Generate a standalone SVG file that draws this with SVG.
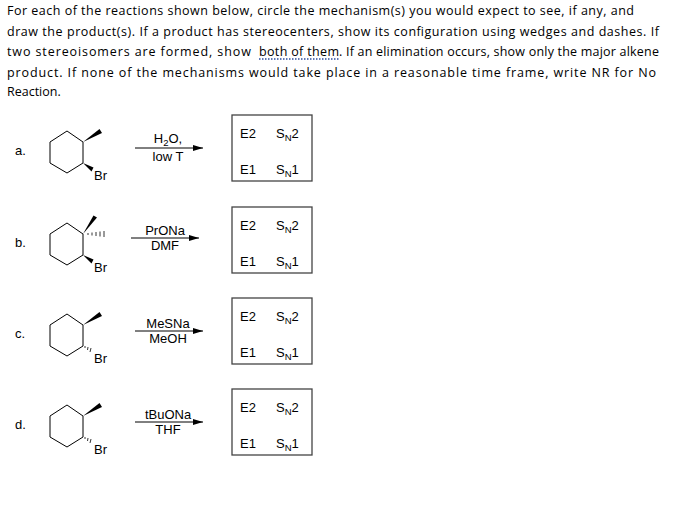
<svg xmlns="http://www.w3.org/2000/svg" width="674" height="515" viewBox="0 0 674 515">
<defs>
<marker id="ah" viewBox="0 0 10 6" refX="10" refY="3" markerWidth="10" markerHeight="6" markerUnits="userSpaceOnUse" orient="auto"><path d="M0,0 L10,3 L0,6 Z" fill="#000"/></marker>
<g id="ring"><polygon points="50,142 67,131 83,142 83,163 67,173 50,163" fill="none" stroke="#000" stroke-width="1"/></g>
</defs>
<style>
.q{font-family:"Open Sans",sans-serif;font-size:12.5px;fill:#000}
.t{font-family:"Liberation Sans",Arial,sans-serif;font-size:13px;fill:#000}
.s{font-size:9.5px}
.box{fill:#fff;stroke:#444;stroke-width:1.3}
.ar{stroke:#000;stroke-width:1;marker-end:url(#ah)}
</style>
<rect width="674" height="515" fill="#fff"/>
<g id="question">
<text class="q" x="7" y="15" textLength="627" lengthAdjust="spacing">For each of the reactions shown below, circle the mechanism(s) you would expect to see, if any, and</text>
<text class="q" x="7" y="36" textLength="652" lengthAdjust="spacing">draw the product(s). If a product has stereocenters, show its configuration using wedges and dashes. If</text>
<text class="q" y="56"><tspan x="7" textLength="248" lengthAdjust="spacing">two stereoisomers are formed, show </tspan><tspan x="259" textLength="80" lengthAdjust="spacing">both of them</tspan><tspan x="339" textLength="320" lengthAdjust="spacing">. If an elimination occurs, show only the major alkene</tspan></text>
<line x1="259" y1="59" x2="339" y2="59" stroke="#2b4ea0" stroke-width="1.3" stroke-dasharray="1.5,1.5"/>
<text class="q" x="7" y="77" textLength="649" lengthAdjust="spacing">product. If none of the mechanisms would take place in a reasonable time frame, write NR for No</text>
<text class="q" x="7" y="96">Reaction.</text>
</g>
<g id="rowA">
<text class="t" x="15" y="155">a.</text>
<use href="#ring"/>
<polygon points="83,142 99.5,129 102,133" fill="#000"/>
<polygon points="83,163 93.5,167.5 91.5,171.5" fill="#000"/>
<text class="t" x="94" y="180">Br</text>
<line class="ar" x1="135" y1="148" x2="203" y2="148"/>
<text class="t" x="168" y="143" text-anchor="middle">H<tspan class="s" dy="3">2</tspan><tspan dy="-3">O,</tspan></text>
<text class="t" x="168" y="161" text-anchor="middle">low T</text>
<rect class="box" x="232" y="115" width="80" height="66"/>
<text class="t" x="240" y="138">E2</text><text class="t" x="276" y="138">S<tspan class="s" dy="3">N</tspan><tspan dy="-3">2</tspan></text>
<text class="t" x="240" y="174">E1</text><text class="t" x="276" y="174">S<tspan class="s" dy="3">N</tspan><tspan dy="-3">1</tspan></text>
</g>
<g id="rowB" transform="translate(0,92)">
<text class="t" x="15" y="155">b.</text>
<use href="#ring"/>
<polygon points="83,142 93.5,123.5 97,125.5" fill="#000"/>
<g stroke="#000" stroke-width="0.8"><line x1="88" y1="141" x2="88" y2="143"/><line x1="92" y1="140.5" x2="92" y2="143.5"/><line x1="96" y1="140" x2="96" y2="144"/><line x1="100" y1="139.5" x2="100" y2="144.5"/><line x1="104" y1="139" x2="104" y2="145"/></g>
<polygon points="83,163 93.5,167.5 91.5,171.5" fill="#000"/>
<text class="t" x="94" y="180">Br</text>
<line class="ar" x1="131" y1="146" x2="199" y2="146"/>
<text class="t" x="165" y="143" text-anchor="middle">PrONa</text>
<text class="t" x="165" y="158" text-anchor="middle">DMF</text>
<rect class="box" x="232" y="115" width="80" height="66"/>
<text class="t" x="240" y="138">E2</text><text class="t" x="276" y="138">S<tspan class="s" dy="3">N</tspan><tspan dy="-3">2</tspan></text>
<text class="t" x="240" y="174">E1</text><text class="t" x="276" y="174">S<tspan class="s" dy="3">N</tspan><tspan dy="-3">1</tspan></text>
</g>
<g id="rowC" transform="translate(0,183)">
<text class="t" x="15" y="155">c.</text>
<use href="#ring"/>
<polygon points="83,142 99.5,129 102,133" fill="#000"/>
<g stroke="#000" stroke-width="0.8"><line x1="85" y1="163" x2="85" y2="165"/><line x1="88" y1="164" x2="87.5" y2="167"/><line x1="91" y1="165" x2="90" y2="169"/></g>
<text class="t" x="94" y="180">Br</text>
<line class="ar" x1="135" y1="148" x2="203" y2="148"/>
<text class="t" x="168" y="145" text-anchor="middle">MeSNa</text>
<text class="t" x="168" y="160" text-anchor="middle">MeOH</text>
<rect class="box" x="232" y="115" width="80" height="66"/>
<text class="t" x="240" y="138">E2</text><text class="t" x="276" y="138">S<tspan class="s" dy="3">N</tspan><tspan dy="-3">2</tspan></text>
<text class="t" x="240" y="174">E1</text><text class="t" x="276" y="174">S<tspan class="s" dy="3">N</tspan><tspan dy="-3">1</tspan></text>
</g>
<g id="rowD" transform="translate(0,274)">
<text class="t" x="15" y="155">d.</text>
<use href="#ring"/>
<polygon points="83,142 99.5,129 102,133" fill="#000"/>
<g stroke="#000" stroke-width="0.8"><line x1="85" y1="163" x2="85" y2="165"/><line x1="88" y1="164" x2="87.5" y2="167"/><line x1="91" y1="165" x2="90" y2="169"/></g>
<text class="t" x="94" y="180">Br</text>
<line class="ar" x1="135" y1="148" x2="203" y2="148"/>
<text class="t" x="168" y="145" text-anchor="middle">tBuONa</text>
<text class="t" x="168" y="160" text-anchor="middle">THF</text>
<rect class="box" x="232" y="115" width="80" height="66"/>
<text class="t" x="240" y="138">E2</text><text class="t" x="276" y="138">S<tspan class="s" dy="3">N</tspan><tspan dy="-3">2</tspan></text>
<text class="t" x="240" y="174">E1</text><text class="t" x="276" y="174">S<tspan class="s" dy="3">N</tspan><tspan dy="-3">1</tspan></text>
</g>
</svg>
